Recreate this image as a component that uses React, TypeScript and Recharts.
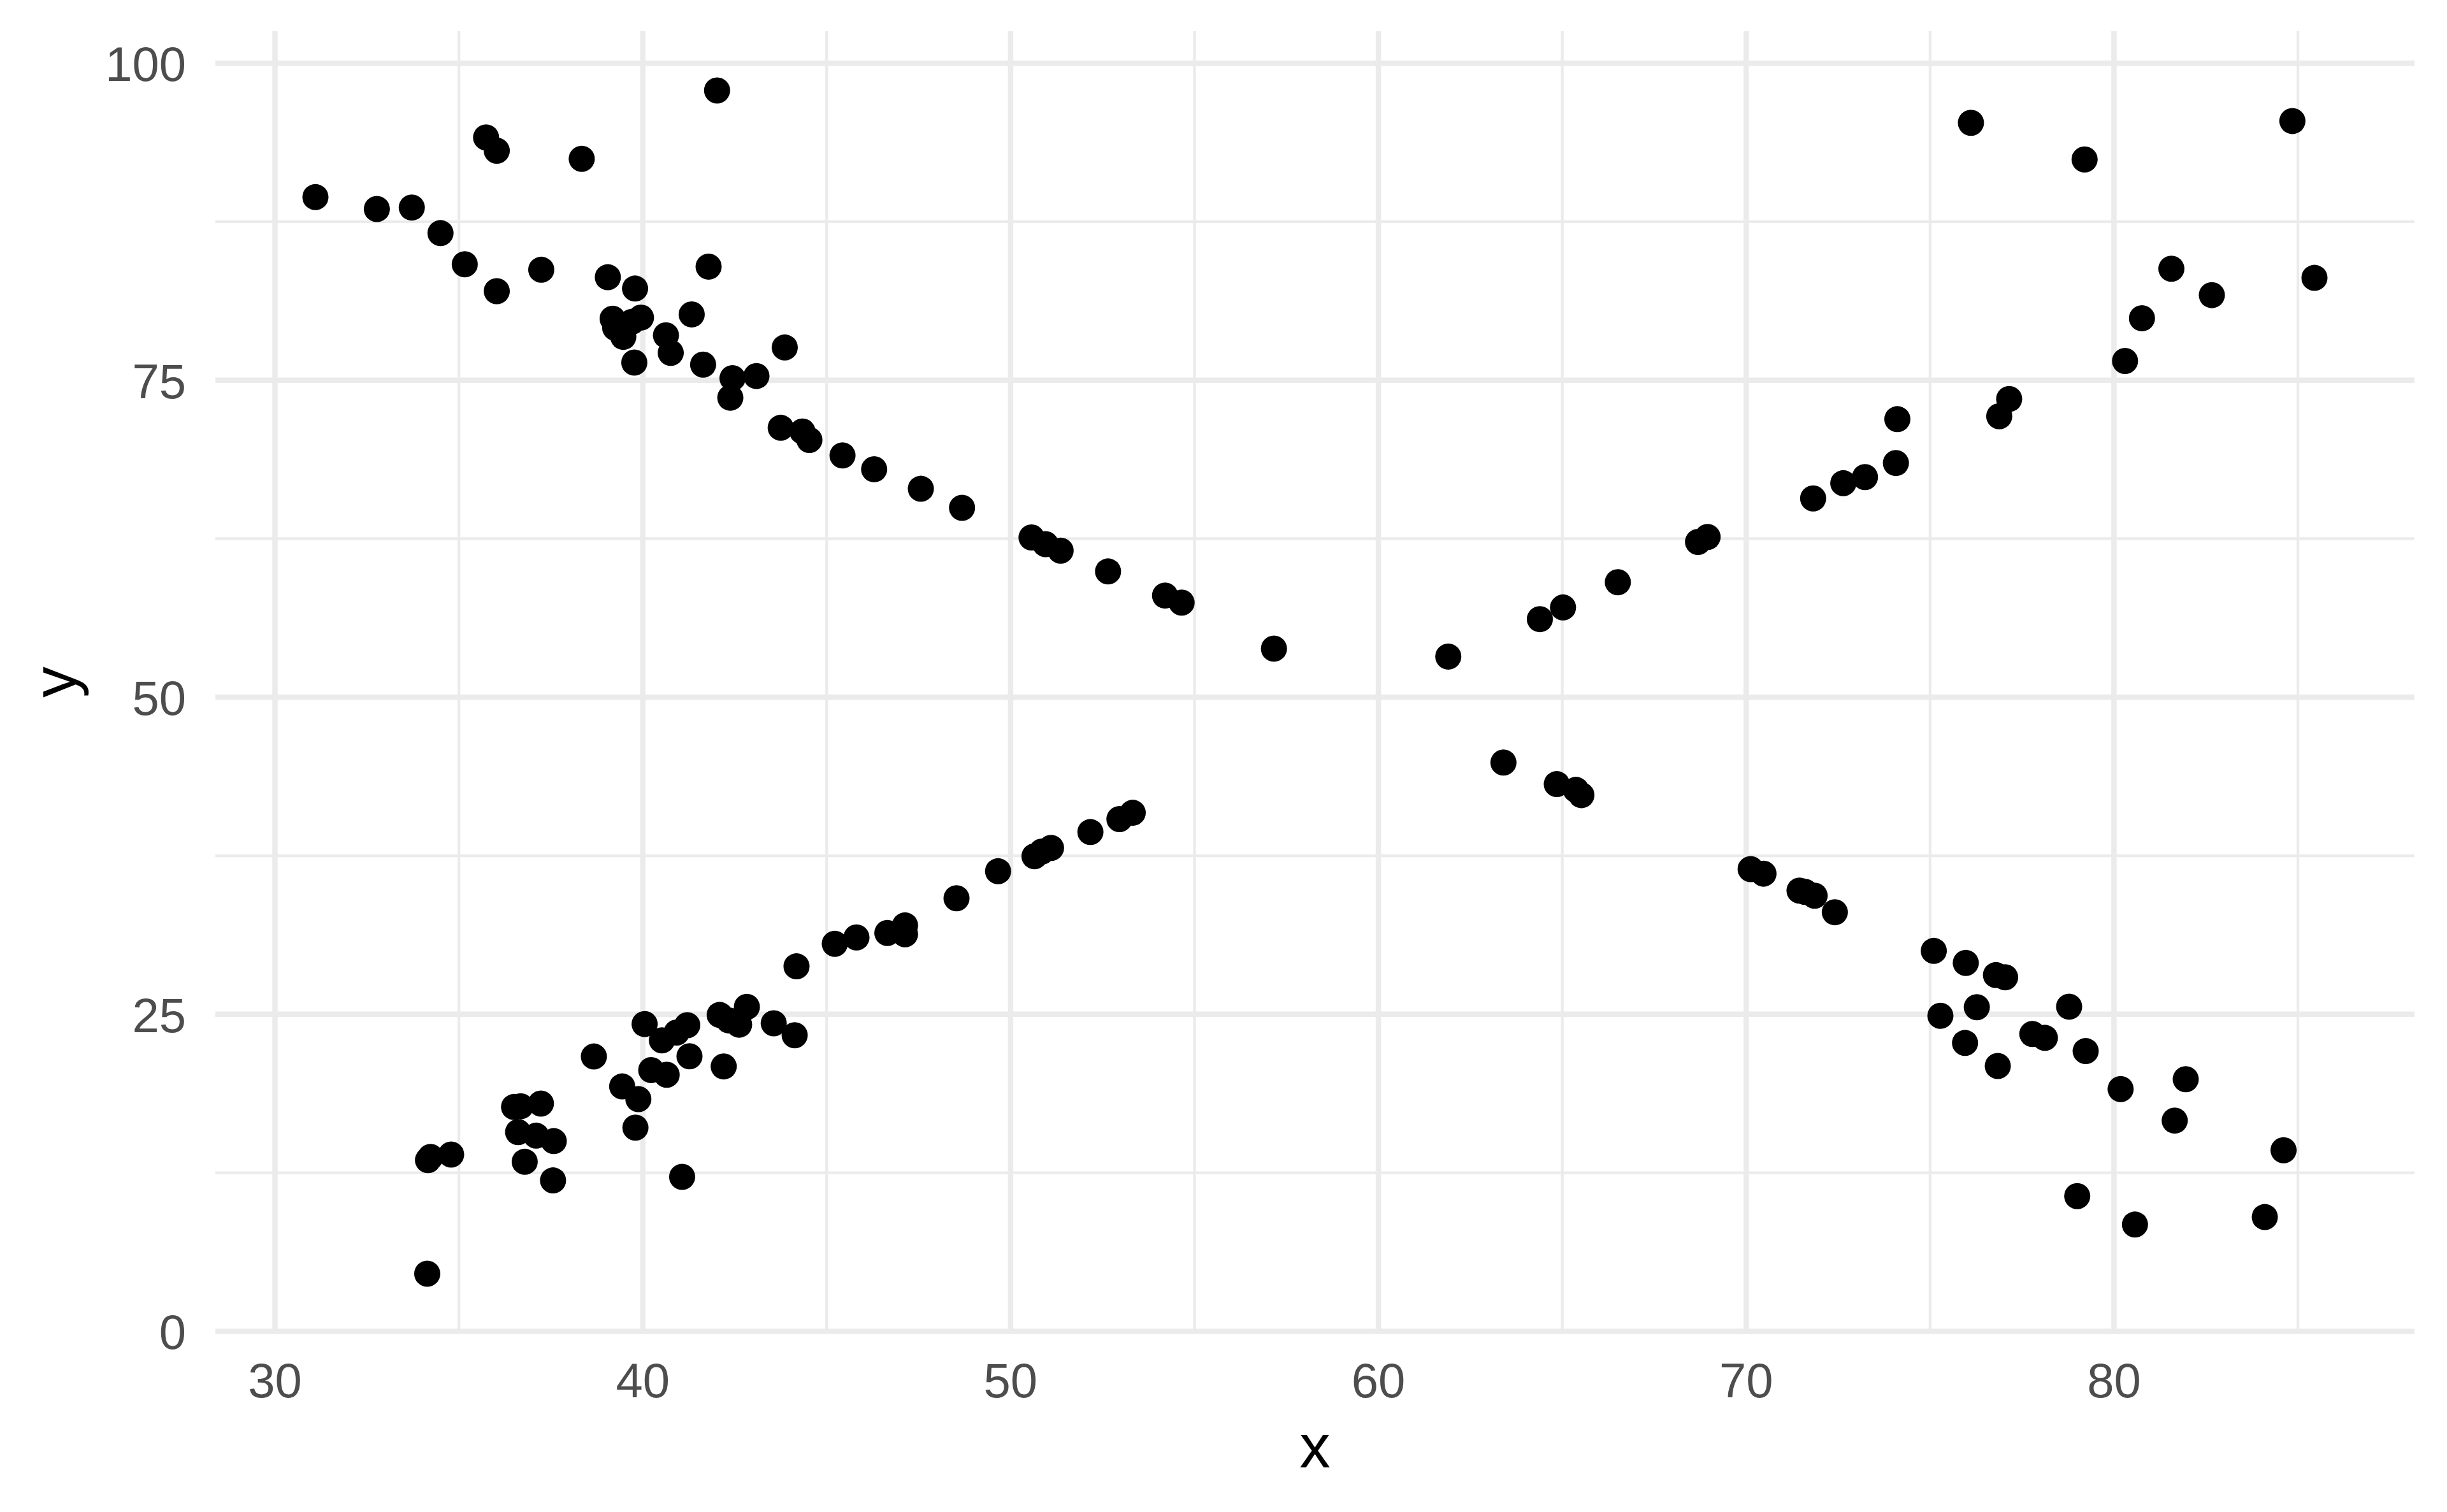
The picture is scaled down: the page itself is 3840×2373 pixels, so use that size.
import {
  ReferenceLine,
  Scatter,
  ScatterChart,
  XAxis,
  YAxis,
} from "recharts";

// Points, grouped by the arm of the "X" they sit on.
const upperLeft: [number, number][] = [
  [31.1, 89.44], [32.77, 88.5], [33.72, 88.62], [34.5, 86.6], [35.16, 84.14],
  [35.74, 94.14], [36.03, 93.1], [38.34, 92.46], [36.03, 82.02], [37.24, 83.71],
  [42.02, 97.85], [39.05, 83.12], [39.79, 82.23], [41.79, 83.96], [39.18, 79.85],
  [39.25, 79.13], [39.47, 78.42], [39.7, 79.6], [39.95, 79.94], [41.33, 80.19],
  [40.63, 78.54], [40.76, 77.16], [39.77, 76.39], [41.64, 76.23], [43.86, 77.58],
  [42.44, 75.16], [43.09, 75.33], [42.38, 73.62], [43.75, 71.25], [44.34, 70.96],
  [44.53, 70.29], [45.43, 69.07], [46.29, 67.98], [47.56, 66.44], [48.68, 64.94],
  [50.57, 62.6], [50.95, 62.07], [51.36, 61.56], [52.65, 59.92], [54.2, 58.02],
  [54.65, 57.46], [57.16, 53.83],
];

const lowerLeft: [number, number][] = [
  [34.14, 4.54], [34.16, 13.5], [34.23, 13.75], [34.79, 13.94], [36.5, 17.69],
  [36.68, 17.75], [37.23, 17.96], [36.61, 15.71], [37.1, 15.43], [37.58, 15.0],
  [36.79, 13.37], [37.56, 11.9], [38.67, 21.67], [39.44, 19.31], [39.88, 18.31],
  [39.8, 16.06], [40.05, 24.23], [40.52, 22.94], [40.92, 23.56], [41.21, 24.14],
  [40.23, 20.6], [40.65, 20.23], [41.27, 21.69], [41.07, 12.18], [42.09, 24.95],
  [42.34, 24.52], [42.62, 24.18], [42.83, 25.58], [42.2, 20.89], [43.56, 24.29],
  [44.13, 23.35], [44.18, 28.78], [45.22, 30.56], [45.81, 31.06], [46.65, 31.41],
  [47.13, 32.01], [47.13, 31.31], [48.53, 34.15], [49.66, 36.28], [50.65, 37.46],
  [50.85, 37.83], [51.1, 38.12], [52.17, 39.37], [52.96, 40.39], [53.32, 40.89],
];

const lowerRight: [number, number][] = [
  [63.4, 44.85], [64.85, 43.15], [65.37, 42.7], [65.52, 42.28], [70.12, 36.45],
  [70.47, 36.09], [71.45, 34.75], [71.6, 34.65], [71.86, 34.35], [72.41, 33.05],
  [75.1, 30.0], [75.97, 29.05], [76.79, 28.09], [77.04, 27.92], [75.28, 24.88],
  [76.27, 25.56], [75.95, 22.74], [76.84, 20.92], [77.78, 23.45], [78.12, 23.14],
  [78.78, 25.6], [79.23, 22.1], [80.18, 19.1], [81.95, 19.88], [81.65, 16.62],
  [84.61, 14.28], [79.0, 10.66], [80.57, 8.42], [84.1, 9.01],
];

const upperRight: [number, number][] = [
  [61.9, 53.21], [64.39, 56.16], [65.02, 57.08], [66.51, 59.07], [68.69, 62.25],
  [68.95, 62.64], [71.82, 65.68], [72.64, 66.88], [73.23, 67.36], [74.07, 68.47],
  [74.11, 71.93], [76.88, 72.16], [77.15, 73.52], [80.3, 76.52], [80.76, 79.89],
  [81.56, 83.79], [82.66, 81.71], [85.45, 83.07], [76.11, 95.3], [79.2, 92.41],
  [84.85, 95.44],
];

const xTicks = [30, 40, 50, 60, 70, 80];
const xMinor = [35, 45, 55, 65, 75, 85];
const yTicks = [0, 25, 50, 75, 100];
const yMinor = [12.5, 37.5, 62.5, 87.5];

const points = [...upperLeft, ...lowerLeft, ...lowerRight, ...upperRight].map(
  ([x, y]) => ({ x, y })
);

const FONT = "'Liberation Sans', Arial, Helvetica, sans-serif";
const GRID = "#EBEBEB";

const XTick = (props: any) => (
  <text
    x={props.x}
    y={props.y + 101}
    textAnchor="middle"
    fill="#4D4D4D"
    fontSize={76}
    fontFamily={FONT}
  >
    {props.payload.value}
  </text>
);

const YTick = (props: any) => (
  <text
    x={props.x - 46}
    y={props.y + 28}
    textAnchor="end"
    fill="#4D4D4D"
    fontSize={76}
    fontFamily={FONT}
  >
    {props.payload.value}
  </text>
);

const XTitle = (props: any) => {
  const vb = props.viewBox || {};
  return (
    <text
      x={vb.x + vb.width / 2}
      y={vb.y + 211}
      textAnchor="middle"
      fill="#000"
      fontSize={97}
      fontFamily={FONT}
    >
      x
    </text>
  );
};

const YTitle = (props: any) => {
  const vb = props.viewBox || {};
  const cx = 119;
  const cy = vb.y + vb.height / 2;
  return (
    <text
      x={cx}
      y={cy}
      textAnchor="middle"
      transform={`rotate(-90, ${cx}, ${cy})`}
      fill="#000"
      fontSize={97}
      fontFamily={FONT}
    >
      y
    </text>
  );
};

const Dot = (props: any) => <circle cx={props.cx} cy={props.cy} r={20.5} fill="#000" />;

export default function App() {
  return (
    <div style={{ width: 3840, height: 2373, background: "#fff" }}>
      <style>{"body{margin:0;background:#fff}"}</style>
      <ScatterChart
        width={3840}
        height={2373}
        margin={{ top: 49, right: 51, bottom: 0, left: 0 }}
      >
        <XAxis
          type="number"
          dataKey="x"
          domain={[28.38, 88.17]}
          allowDataOverflow
          ticks={xTicks}
          height={281}
          axisLine={false}
          tickLine={false}
          tickSize={0}
          tickMargin={0}
          tick={<XTick />}
          label={<XTitle />}
        />
        <YAxis
          type="number"
          dataKey="y"
          domain={[-0.13, 102.52]}
          allowDataOverflow
          ticks={yTicks}
          width={338}
          axisLine={false}
          tickLine={false}
          tickSize={0}
          tickMargin={0}
          tick={<YTick />}
          label={<YTitle />}
        />
        {xMinor.map((v) => (
          <ReferenceLine key={`xm${v}`} x={v} stroke={GRID} strokeWidth={4.3} />
        ))}
        {yMinor.map((v) => (
          <ReferenceLine key={`ym${v}`} y={v} stroke={GRID} strokeWidth={4.3} />
        ))}
        {xTicks.map((v) => (
          <ReferenceLine key={`x${v}`} x={v} stroke={GRID} strokeWidth={8.5} />
        ))}
        {yTicks.map((v) => (
          <ReferenceLine key={`y${v}`} y={v} stroke={GRID} strokeWidth={8.5} />
        ))}
        <Scatter data={points} shape={<Dot />} isAnimationActive={false} />
      </ScatterChart>
    </div>
  );
}
